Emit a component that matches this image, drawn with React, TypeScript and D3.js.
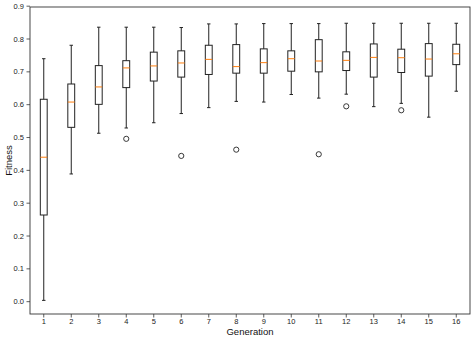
import React from "react";
import * as d3 from "d3";

const generations = [1, 2, 3, 4, 5, 6, 7, 8, 9, 10, 11, 12, 13, 14, 15, 16];
const whiskerLow = [0.004, 0.389, 0.513, 0.529, 0.545, 0.573, 0.591, 0.610, 0.608, 0.631, 0.620, 0.632, 0.594, 0.604, 0.562, 0.641];
const q1 = [0.264, 0.531, 0.601, 0.652, 0.672, 0.684, 0.692, 0.696, 0.696, 0.702, 0.700, 0.704, 0.684, 0.698, 0.687, 0.722];
const median = [0.440, 0.608, 0.654, 0.712, 0.718, 0.727, 0.738, 0.716, 0.728, 0.740, 0.733, 0.735, 0.744, 0.743, 0.739, 0.755];
const q3 = [0.6165, 0.663, 0.719, 0.734, 0.760, 0.764, 0.781, 0.783, 0.770, 0.764, 0.798, 0.761, 0.785, 0.769, 0.786, 0.784];
const whiskerHigh = [0.740, 0.781, 0.836, 0.836, 0.836, 0.835, 0.846, 0.846, 0.847, 0.847, 0.847, 0.848, 0.848, 0.848, 0.848, 0.848];
const outliers: [number, number][] = [
  [4, 0.496],
  [6, 0.444],
  [8, 0.463],
  [11, 0.449],
  [12, 0.595],
  [14, 0.583],
];
const yTicks = [0.0, 0.1, 0.2, 0.3, 0.4, 0.5, 0.6, 0.7, 0.8, 0.9];

const W = 474;
const H = 340;
const left = 30;
const right = 470;
const top = 7;
const bottom = 314;

export default function App() {
  const x = d3.scaleLinear().domain([0.5, 16.5]).range([left, right]);
  const y = d3.scaleLinear().domain([-0.0375, 0.8975]).range([bottom, top]);
  const boxW = x(1.25) - x(1);
  const capW = boxW / 2;
  const font = "Liberation Sans, Arial, sans-serif";
  const stroke = "#222";

  return (
    <svg width={W} height={H} style={{ position: "absolute", left: 0, top: 0, background: "#fff" }}>
      {generations.map((g, i) => {
        const cx = x(g);
        return (
          <g key={g} fill="none" stroke={stroke} strokeWidth={1}>
            <line x1={cx} x2={cx} y1={y(q3[i])} y2={y(whiskerHigh[i])} />
            <line x1={cx} x2={cx} y1={y(q1[i])} y2={y(whiskerLow[i])} />
            <line x1={cx - capW / 2} x2={cx + capW / 2} y1={y(whiskerHigh[i])} y2={y(whiskerHigh[i])} />
            <line x1={cx - capW / 2} x2={cx + capW / 2} y1={y(whiskerLow[i])} y2={y(whiskerLow[i])} />
            <rect x={cx - boxW / 2} y={y(q3[i])} width={boxW} height={y(q1[i]) - y(q3[i])} />
            <line x1={cx - boxW / 2} x2={cx + boxW / 2} y1={y(median[i])} y2={y(median[i])} stroke="#ff7f0e" />
          </g>
        );
      })}
      {outliers.map(([g, v], i) => (
        <circle key={i} cx={x(g)} cy={y(v)} r={2.6} fill="none" stroke={stroke} strokeWidth={0.9} />
      ))}
      <rect x={left} y={top} width={right - left} height={bottom - top} fill="none" stroke="#333" strokeWidth={0.9} />
      {yTicks.map((t) => (
        <g key={t}>
          <line x1={left - 3.5} x2={left} y1={y(t)} y2={y(t)} stroke="#333" strokeWidth={0.8} />
          <text x={left - 6} y={y(t)} dy="0.35em" textAnchor="end" fontSize={7.5} fontFamily={font} fill="#222">
            {t.toFixed(1)}
          </text>
        </g>
      ))}
      {generations.map((g) => (
        <g key={g}>
          <line x1={x(g)} x2={x(g)} y1={bottom} y2={bottom + 3.5} stroke="#333" strokeWidth={0.8} />
          <text x={x(g)} y={bottom + 10} textAnchor="middle" fontSize={7.5} fontFamily={font} fill="#222">
            {g}
          </text>
        </g>
      ))}
      <text x={(left + right) / 2} y={334.5} textAnchor="middle" fontSize={9.5} fontFamily={font} fill="#111">
        Generation
      </text>
      <text
        transform={`translate(12,${(top + bottom) / 2}) rotate(-90)`}
        textAnchor="middle"
        fontSize={9.5}
        fontFamily={font}
        fill="#111"
      >
        Fitness
      </text>
    </svg>
  );
}
